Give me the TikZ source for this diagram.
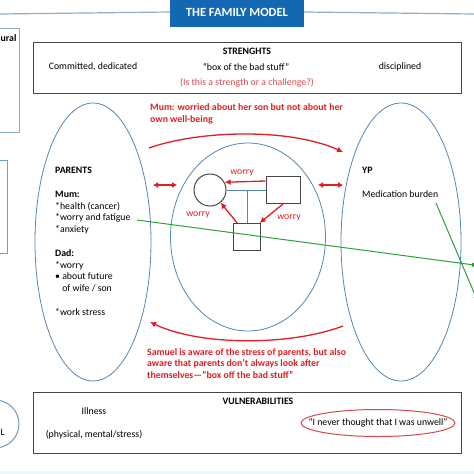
\documentclass[tikz,border=0pt]{standalone}
\usepackage{fontspec}
\setmainfont{Carlito}
\usetikzlibrary{arrows.meta,shapes.geometric}
\definecolor{famblue}{RGB}{20,103,179}
\definecolor{ringblue}{RGB}{85,135,180}
\definecolor{edgeblue}{RGB}{140,175,200}
\definecolor{alarm}{RGB}{222,32,36}
\definecolor{softred}{RGB}{214,72,78}
\definecolor{linegreen}{RGB}{45,160,55}
\definecolor{framegray}{RGB}{70,70,70}
\definecolor{bandcyan}{RGB}{234,247,252}

\begin{document}
\begin{tikzpicture}[x=1pt,y=-1pt,
	every node/.style={font=\fontsize{9.8}{11.8}\selectfont,inner sep=0pt},
	ring/.style={draw=ringblue,line width=0.8pt,ellipse},
	panel/.style={draw=framegray,line width=1pt},
	person/.style={draw=framegray,line width=1pt},
	tie/.style={draw=ringblue,line width=0.8pt},
	redarrow/.style={alarm,line width=1.3pt,-{Latex[length=6pt,width=6pt]}},
	twoway/.style={alarm,line width=1.3pt,{Latex[length=5pt,width=6pt]}-{Latex[length=5pt,width=6pt]}},
	greenarrow/.style={linegreen,line width=1pt,-{Latex[length=6pt,width=5pt]}},
	worry/.style={text=alarm}]
	\useasboundingbox (0,0) rectangle (474,474);

	\fill[bandcyan] (0,471) rectangle (474,474);
	\node[fill=famblue,text=white,font=\fontsize{12.5}{14}\bfseries,minimum width=134pt,minimum height=30pt] (title) at (237,12) {THE FAMILY MODEL};
	\draw[edgeblue,line width=1.2pt] (0,14) -- (title.west);
	\draw[edgeblue,line width=1.2pt] (title.east) -- (474,14);

	\draw[edgeblue,line width=1pt] (-10,28) rectangle (19,132);
	\node[anchor=west,font=\fontsize{9.8}{11}\bfseries] (cultural) at (0.5,38) {ural};
	\draw[ringblue!80,line width=1pt] (-10,160) rectangle (7,253);
	\draw[ringblue,line width=0.8pt] (-5,424) circle [radius=24pt];
	\node[anchor=west] (leftl) at (0.5,432) {L};

	\node[panel,minimum width=428pt,minimum height=51pt] (strengths) at (247,67.5) {};
	\node[font=\fontsize{9.8}{11}\bfseries] (stitle) at (247,51) {STRENGHTS};
	\node (committed) at (93,67) {Committed, dedicated};
	\node (badstuff) at (246,67) {“box of the bad stuff”};
	\node (disciplined) at (400,67) {disciplined};
	\node[text=softred] (question) at (247,83) {(Is this a strength or a challenge?)};

	\node[anchor=north west,align=left,text=alarm,font=\fontsize{9.8}{12}\bfseries] (mumnote) at (150,103) {Mum: worried about her son but not about her\\own well-being};

	\node[ring,minimum width=116pt,minimum height=278pt] (parents) at (93,242) {};
	\node[ring,minimum width=155pt,minimum height=188pt] (family) at (248,237) {};
	\node[ring,minimum width=120pt,minimum height=278pt] (yp) at (401,242) {};

	\node[anchor=north west,align=left] (parentlist) at (55,167) {\textbf{PARENTS}\\[11.8pt]
		\textbf{Mum:}\\*health (cancer)\\*worry and fatigue\\*anxiety\\[11.8pt]
		\textbf{Dad:}\\*worry\\\textbullet\ about future\\\hphantom{\textbullet\ }of wife / son\\[11.8pt]
		*work stress};
	\node[anchor=north west,align=left] (yplist) at (362,167) {\textbf{YP}\\[11.8pt]Medication burden};

	\coordinate (pa) at (153,185);
	\coordinate (pb) at (177,185);
	\coordinate (ya) at (318,185);
	\coordinate (yb) at (343,185);
	\draw[twoway] (pa) -- (pb);
	\draw[twoway] (ya) -- (yb);

	\node[person,circle,minimum size=32pt] (mum) at (210,190) {};
	\node[person,minimum width=34pt,minimum height=27pt] (dad) at (283,190) {};
	\node[person,minimum width=27pt,minimum height=27pt] (son) at (247,237) {};
	\draw[tie] (mum.east) -- (dad.west);
	\draw[tie] (son.north) -- (son.north |- mum.east);

	\draw[redarrow] ([yshift=9pt]dad.west) -- (mum.28);
	\draw[redarrow] (son.125) -- (mum.-50);
	\draw[redarrow] (dad.south) -- (son.48);
	\node[worry] (w1) at (242,173) {worry};
	\node[worry] (w2) at (198,215) {worry};
	\node[worry] (w3) at (289,218) {worry};

	\coordinate (topa) at (149,148);
	\coordinate (topb) at (343,152);
	\draw[redarrow] (topa) .. controls (200,130) and (290,128) .. (topb);
	\coordinate (bota) at (343,326);
	\coordinate (botb) at (150,322);
	\draw[redarrow] (bota) .. controls (290,346) and (200,346) .. (botb);

	\coordinate (fatigue) at (137,220);
	\coordinate (outa) at (478,265.5);
	\coordinate (medication) at (436,203);
	\coordinate (outb) at (478,302);
	\draw[greenarrow] (fatigue) -- (outa);
	\draw[greenarrow] (medication) -- (outb);

	\node[anchor=north west,align=left,text=alarm,font=\fontsize{9.8}{11.6}\bfseries] (samnote) at (147,348) {Samuel is aware of the stress of parents, but also\\aware that parents don’t always look after\\themselves—“box off the bad stuff”};

	\node[panel,minimum width=428pt,minimum height=61pt] (vulnerable) at (247,422.5) {};
	\node[font=\fontsize{9.8}{11}\bfseries] (vtitle) at (258,401) {VULNERABILITIES};
	\node (illness) at (94,411) {Illness};
	\node (kinds) at (94,435) {(physical, mental/stress)};
	\node (quote) at (378,423) {“I never thought that I was unwell”};
	\draw[softred,line width=1pt] (quote.center) ellipse [x radius=77pt,y radius=13.5pt];
\end{tikzpicture}
\end{document}
